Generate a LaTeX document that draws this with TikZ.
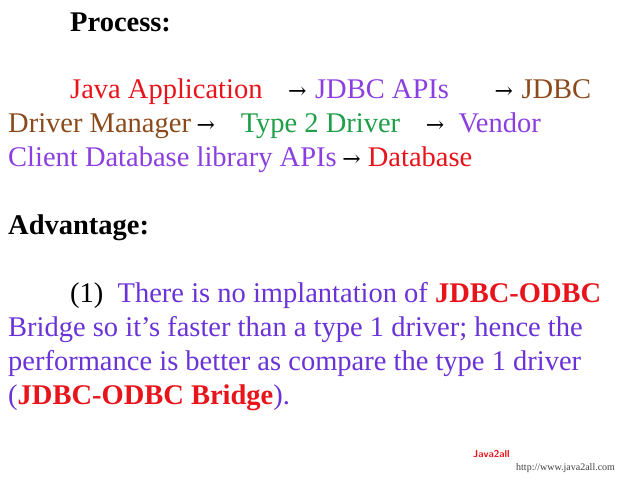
\documentclass[tikz,border=0pt]{standalone}
\usepackage{fontspec}
\setmainfont{Liberation Serif}
\newfontfamily\arrfont{DejaVu Serif}
\newcommand{\ar}{{\arrfont\fontsize{22}{30}\selectfont →}}
\begin{document}
\begin{tikzpicture}[x=1pt,y=-1pt,
  ln/.style={anchor=base west,inner sep=0pt,font=\fontsize{28.5}{34}\selectfont}]
\definecolor{cred}{HTML}{E8141B}
\definecolor{cpur}{HTML}{8B3FE0}
\definecolor{cblu}{HTML}{6A33D8}
\definecolor{cbrn}{HTML}{8B4A1C}
\definecolor{cgrn}{HTML}{1E9F48}
\useasboundingbox[fill=white] (0,0) rectangle (638,478);
\node[ln,font=\fontsize{28.5}{34}\selectfont\bfseries] (t1) at (70,32) {Process:};
\node[ln] (l1) at (70,99) {\color{cred}Java Application\hspace{0.9em}\color{black}\ar\hspace{0.3em}\color{cpur}JDBC APIs\hspace{1.6em}\color{black}\ar\hspace{0.3em}\color{cbrn}JDBC};
\node[ln] (l2) at (8,133) {\color{cbrn}Driver Manager\hspace{0.2em}\color{black}\ar\hspace{0.9em}\color{cgrn}Type 2 Driver\hspace{0.9em}\color{black}\ar\hspace{0.5em}\color{cpur}Vendor};
\node[ln] (l3) at (8,167) {\color{cpur}Client Database library APIs\hspace{0.2em}\color{black}\ar\hspace{0.25em}\color{cred}Database};
\node[ln,font=\fontsize{28.5}{34}\selectfont\bfseries] (t2) at (8,235) {Advantage:};
\node[ln] (a1) at (70,303) {(1)\hspace{0.5em}\color{cblu}There is no implantation of \color{cred}\bfseries JDBC-ODBC};
\node[ln] (a2) at (8,337) {\color{cblu}Bridge so it’s faster than a type 1 driver; hence the};
\node[ln] (a3) at (8,371) {\color{cblu}performance is better as compare the type 1 driver};
\node[ln] (a4) at (8,405) {\color{cblu}(\textcolor{cred}{\bfseries JDBC-ODBC Bridge}).};
\node[anchor=base west,inner sep=0pt,font=\fontsize{10}{10}\sffamily\bfseries,text=cred] (logo) at (473,458) {Java2all};
\node[anchor=base west,inner sep=0pt,font=\fontsize{10}{10}\selectfont,text=black!75] (url) at (516,471) {http://www.java2all.com};
\end{tikzpicture}
\end{document}
